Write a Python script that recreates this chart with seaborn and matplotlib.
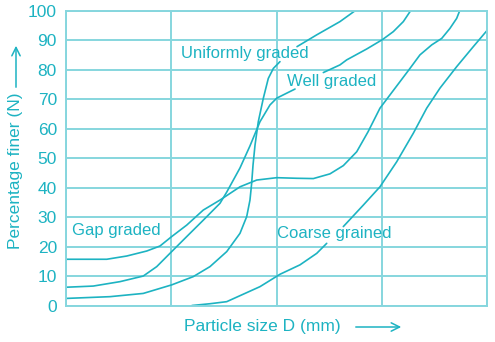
import matplotlib
matplotlib.use("Agg")
import matplotlib.pyplot as plt
from matplotlib.patches import FancyArrowPatch
import seaborn as sns

# ---- data (x in grid units 0..4, y in percent finer) ----
uniform_lower_x = [0.0, 0.418, 0.734, 1.004, 1.209, 1.368, 1.527, 1.653, 1.717, 1.748,
                   1.764, 1.777, 1.796, 1.827, 1.875, 1.922, 1.970, 2.033]
uniform_lower_y = [2.4, 3.0, 4.1, 7.0, 9.8, 13.2, 18.3, 24.5, 30.2, 35.8,
                   41.5, 47.7, 54.5, 62.4, 70.4, 77.1, 80.5, 82.8]
uniform_upper_x = [2.195, 2.382, 2.603, 2.751]
uniform_upper_y = [87.9, 91.9, 96.4, 100.2]

well_lower_x = [0.0, 0.259, 0.513, 0.734, 0.862, 1.004, 1.147, 1.305, 1.463, 1.527,
                1.590, 1.653, 1.748, 1.843, 1.938, 2.002, 2.097, 2.176]
well_lower_y = [6.2, 6.6, 8.1, 10.0, 13.2, 18.3, 23.4, 29.0, 34.7, 38.5,
                42.6, 46.7, 54.2, 62.4, 68.1, 70.4, 72.1, 73.5]
well_upper_x = [2.445, 2.603, 2.667, 2.857, 3.007, 3.110, 3.205, 3.278]
well_upper_y = [79.1, 81.7, 83.4, 87.1, 90.3, 93.0, 96.4, 100.3]

gap_x = [0.0, 0.387, 0.577, 0.767, 0.893, 1.004, 1.147, 1.304, 1.463, 1.653, 1.812,
         2.002, 2.192, 2.350, 2.508, 2.635, 2.762, 2.870, 2.983, 3.078, 3.173, 3.268,
         3.363, 3.475, 3.570, 3.648, 3.712, 3.743]
gap_y = [15.7, 15.7, 16.8, 18.5, 20.2, 23.4, 27.3, 32.4, 35.8, 40.3, 42.6,
         43.4, 43.2, 43.1, 44.7, 47.5, 52.2, 59.0, 67.0, 71.5, 76.0, 80.5,
         85.1, 88.5, 90.7, 94.1, 97.5, 100.3]

coarse_lower_x = [1.197, 1.368, 1.527, 1.843, 2.033, 2.223, 2.382, 2.477]
coarse_lower_y = [0.0, 0.6, 1.3, 6.4, 10.6, 13.8, 17.7, 21.1]
coarse_upper_x = [2.635, 2.825, 2.983, 3.142, 3.300, 3.427, 3.553, 3.712, 3.870, 4.003]
coarse_upper_y = [26.8, 34.1, 40.3, 48.8, 58.5, 67.0, 73.8, 81.1, 87.9, 93.5]

x_grid = [0, 1, 2, 3, 4]
y_ticks = [0, 10, 20, 30, 40, 50, 60, 70, 80, 90, 100]
y_tick_labels = [str(v) for v in y_ticks]

labels = ["Uniformly graded", "Well graded", "Gap graded", "Coarse grained"]
label_x = [1.70, 2.522, 0.475, 2.551]
label_y = [85.7, 76.2, 25.3, 24.3]

# ---- style ----
sns.set_theme(style="white")
plt.rcParams["font.family"] = ["Liberation Sans", "DejaVu Sans"]
C = "#1db3c2"
G = "#86d6de"

fig = plt.figure(figsize=(4.95, 3.42), dpi=100)
ax = fig.add_axes([66 / 495, 1 - 305.5 / 342, (487 - 66) / 495, (305.5 - 11) / 342])

segments = [
    (uniform_lower_x, uniform_lower_y), (uniform_upper_x, uniform_upper_y),
    (well_lower_x, well_lower_y), (well_upper_x, well_upper_y),
    (gap_x, gap_y),
    (coarse_lower_x, coarse_lower_y), (coarse_upper_x, coarse_upper_y),
]
for xs, ys in segments:
    sns.lineplot(x=xs, y=ys, ax=ax, color=C, lw=1.2, sort=False, estimator=None,
                 solid_joinstyle="round", solid_capstyle="round")

ax.set_xlim(0, 4)
ax.set_ylim(0, 100)
ax.set_xticks(x_grid)
ax.set_xticklabels([])
ax.set_yticks(y_ticks)
ax.set_yticklabels(y_tick_labels)
ax.tick_params(axis="x", length=0)
ax.tick_params(axis="y", length=4.5, width=1.2, color=C, labelcolor=C,
               labelsize=12.5, pad=2)
ax.grid(True, color=G, lw=1.4)
ax.set_axisbelow(True)
for sp in ax.spines.values():
    sp.set_color(G)
    sp.set_linewidth(1.4)

for t, lx, ly in zip(labels, label_x, label_y):
    ax.text(lx, ly, t, color=C, fontsize=12, ha="center", va="center")

# axis titles with arrows
fig.text(16 / 495, 1 - 171 / 342, "Percentage finer (N)", rotation=90,
         color=C, fontsize=12.5, ha="center", va="center")
fig.text(262 / 495, 1 - 326 / 342, "Particle size D (mm)",
         color=C, fontsize=12.5, ha="center", va="center")
arrow = dict(arrowstyle="->,head_length=0.5,head_width=0.25", color=C, lw=1.1,
             mutation_scale=12)
fig.add_artist(FancyArrowPatch(
    (16 / 495, 1 - 90 / 342), (16 / 495, 1 - 43 / 342),
    transform=fig.transFigure, **arrow))
fig.add_artist(FancyArrowPatch(
    (353 / 495, 1 - 327 / 342), (404 / 495, 1 - 327 / 342),
    transform=fig.transFigure, **arrow))

fig.savefig("out.png", dpi=100, facecolor="white")
